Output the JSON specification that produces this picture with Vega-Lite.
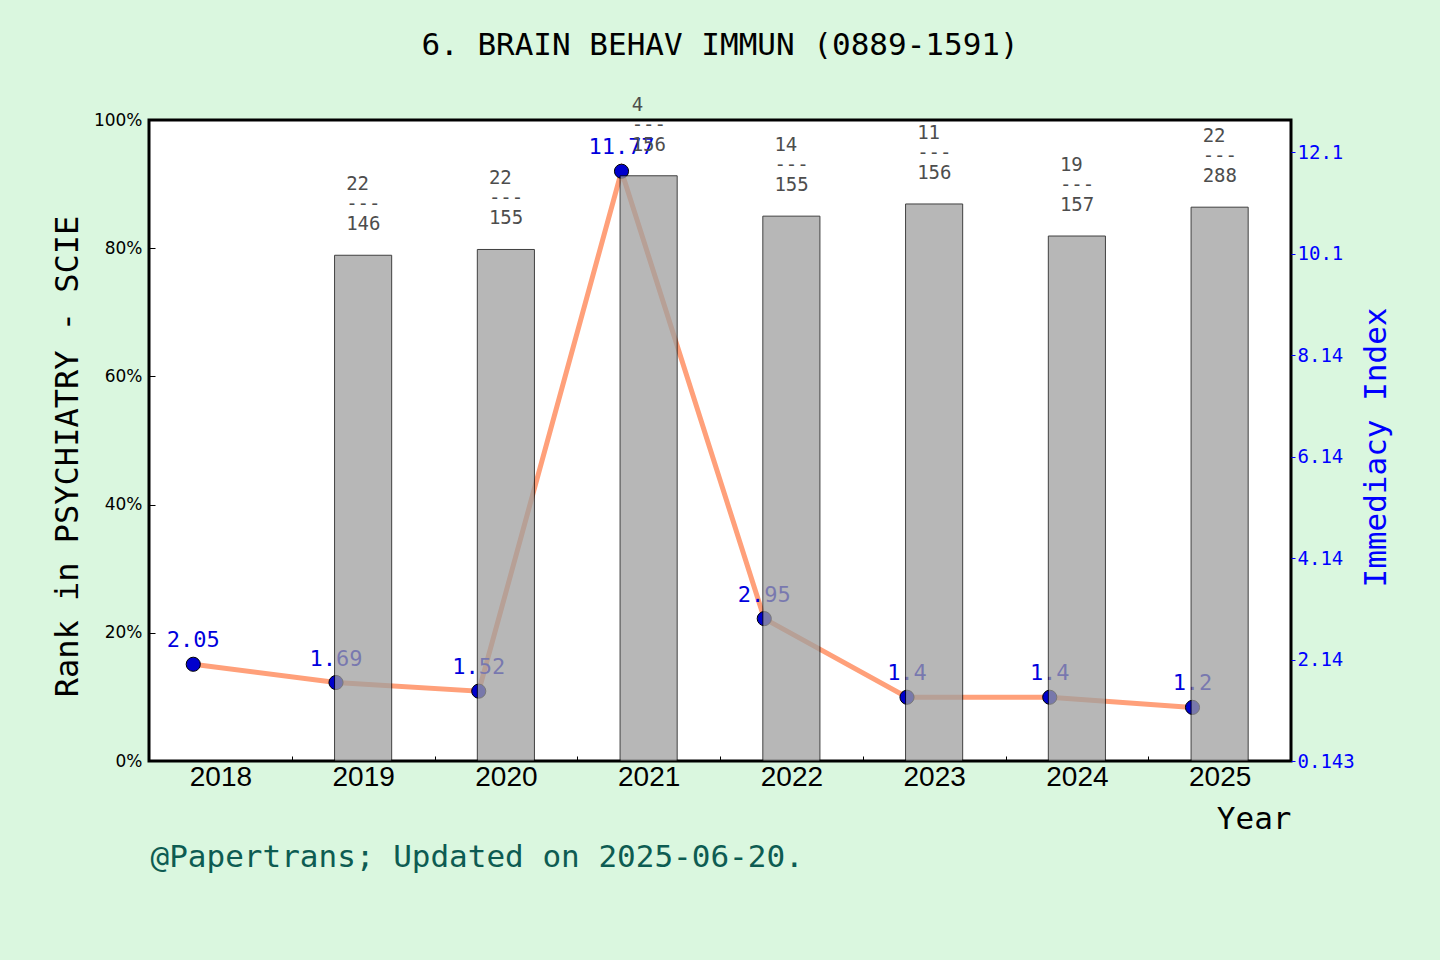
{
  "$schema": "https://vega.github.io/schema/vega-lite/v6.json",
  "width": 1142,
  "height": 641,
  "autosize": {"type": "none"},
  "padding": {"left": 149, "top": 120, "right": 149, "bottom": 199},
  "background": "#daf7df",
  "title": {
    "text": "6. BRAIN BEHAV IMMUN (0889-1591)",
    "font": "DejaVu Sans Mono",
    "fontSize": 31,
    "fontWeight": "normal",
    "color": "black",
    "anchor": "middle",
    "frame": "group",
    "baseline": "alphabetic",
    "offset": 10
  },
  "data": {
    "values": [
      {"year": 2018, "ii": 2.05, "rank": null, "label": null},
      {"year": 2019, "ii": 1.69, "rank": 0.789, "label": "22\n---\n146"},
      {"year": 2020, "ii": 1.52, "rank": 0.798, "label": "22\n---\n155"},
      {"year": 2021, "ii": 11.77, "rank": 0.913, "label": "4\n---\n156"},
      {"year": 2022, "ii": 2.95, "rank": 0.85, "label": "14\n---\n155"},
      {"year": 2023, "ii": 1.4, "rank": 0.869, "label": "11\n---\n156"},
      {"year": 2024, "ii": 1.4, "rank": 0.819, "label": "19\n---\n157"},
      {"year": 2025, "ii": 1.2, "rank": 0.864, "label": "22\n---\n288"}
    ]
  },
  "layer": [
    {
      "encoding": {
        "x": {
          "field": "year",
          "type": "ordinal",
          "bandPosition": 0.31,
          "scale": {"type": "band", "paddingInner": 0, "paddingOuter": 0, "domain": [2018, 2019, 2020, 2021, 2022, 2023, 2024, 2025]},
          "axis": {
            "orient": "bottom",
            "labels": false,
            "ticks": false,
            "domain": false,
            "title": "@Papertrans; Updated on 2025-06-20.",
            "titleFont": "DejaVu Sans Mono",
            "titleFontSize": 31,
            "titleFontWeight": "normal",
            "titleColor": "#0d5c52",
            "titleX": 1,
            "titleY": 105,
            "titleAlign": "left",
            "titleBaseline": "alphabetic",
            "titleAngle": 0
          }
        },
        "y": {
          "field": "ii",
          "type": "quantitative",
          "scale": {"domain": [0.143, 12.78], "zero": false, "nice": false},
          "axis": {
            "orient": "right",
            "values": [0.143, 2.143, 4.143, 6.143, 8.143, 10.143, 12.143],
            "format": ".3",
            "grid": false,
            "domain": false,
            "tickSize": 4,
            "tickColor": "blue",
            "labelColor": "blue",
            "labelFont": "DejaVu Sans Mono",
            "labelFontSize": 19,
            "labelPadding": 2,
            "title": "Immediacy Index",
            "titleFont": "DejaVu Sans Mono",
            "titleFontSize": 31,
            "titleFontWeight": "normal",
            "titleColor": "blue",
            "titleAngle": -90,
            "titleX": 94,
            "titleY": 327,
            "titleAlign": "center",
            "titleBaseline": "alphabetic"
          }
        }
      },
      "layer": [
        {"mark": {"type": "line", "color": "#ffa07a", "strokeWidth": 5}},
        {"mark": {"type": "point", "filled": true, "fill": "#0000cd", "stroke": "black", "strokeWidth": 1, "size": 200, "opacity": 1}},
        {
          "mark": {"type": "text", "font": "DejaVu Sans Mono", "fontSize": 22, "color": "#0000dd", "baseline": "alphabetic", "dy": -17, "align": "center"},
          "encoding": {"text": {"field": "ii", "type": "quantitative", "format": ".4~g"}}
        }
      ]
    },
    {
      "encoding": {
        "x": {
          "field": "year",
          "type": "ordinal",
          "axis": {
            "orient": "bottom",
            "domain": false,
            "tickBand": "extent",
            "tickSize": -5,
            "tickColor": "black",
            "labelFont": "Liberation Sans",
            "labelFontSize": 28,
            "labelColor": "black",
            "labelPadding": 7,
            "labelAngle": 0,
            "title": "Year",
            "titleFont": "DejaVu Sans Mono",
            "titleFontSize": 31,
            "titleFontWeight": "normal",
            "titleColor": "black",
            "titleX": 1142,
            "titleY": 67,
            "titleAlign": "right",
            "titleBaseline": "alphabetic"
          }
        },
        "y": {
          "field": "rank",
          "type": "quantitative",
          "scale": {"domain": [0, 1], "nice": false},
          "axis": {
            "orient": "left",
            "values": [0, 0.2, 0.4, 0.6, 0.8, 1],
            "format": ".0%",
            "grid": false,
            "domain": false,
            "tickSize": -6,
            "tickColor": "black",
            "labelFont": "DejaVu Sans",
            "labelFontSize": 17,
            "labelColor": "black",
            "labelPadding": 13,
            "title": "Rank in PSYCHIATRY - SCIE",
            "titleFont": "DejaVu Sans Mono",
            "titleFontSize": 32,
            "titleFontWeight": "normal",
            "titleColor": "black",
            "titleAngle": -90,
            "titleX": -72,
            "titleY": 336,
            "titleAlign": "center",
            "titleBaseline": "alphabetic"
          }
        }
      },
      "layer": [
        {"mark": {"type": "bar", "width": {"band": 0.4}, "color": "#a0a0a0", "opacity": 0.75, "stroke": "black", "strokeWidth": 1, "strokeOpacity": 1}},
        {
          "mark": {"type": "text", "font": "DejaVu Sans Mono", "fontSize": 19, "color": "#4d4d4d", "align": "left", "dx": -17, "baseline": "bottom", "dy": -61, "lineBreak": "\n", "lineHeight": 20},
          "encoding": {"text": {"field": "label", "type": "nominal"}}
        }
      ]
    }
  ],
  "resolve": {"scale": {"y": "independent"}, "axis": {"x": "independent", "y": "independent"}},
  "config": {
    "view": {"stroke": "black", "strokeWidth": 3, "fill": "white"}
  }
}
